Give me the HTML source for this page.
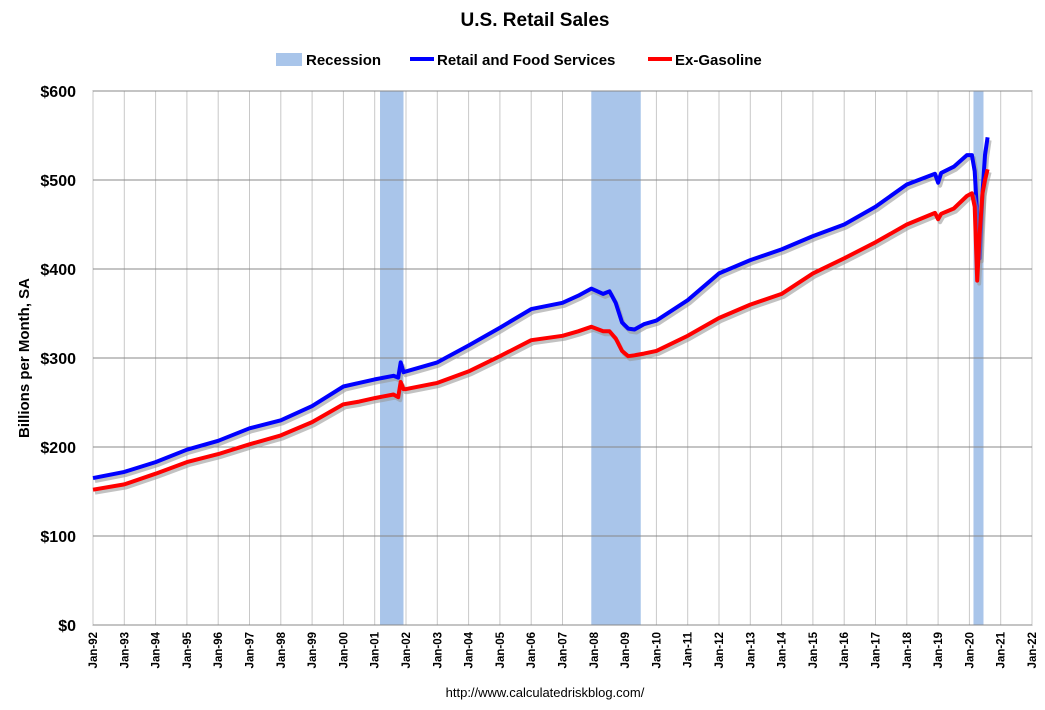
<!DOCTYPE html>
<html><head><meta charset="utf-8">
<style>
body{margin:0;background:#fff;}
svg text{font-family:"Liberation Sans",Arial,sans-serif;}
</style></head>
<body>
<svg id="chart" width="1045" height="705" xmlns="http://www.w3.org/2000/svg">
<rect width="1045" height="705" fill="#fff"/>
<text x="535" y="26" text-anchor="middle" font-size="19" font-weight="bold">U.S. Retail Sales</text>
<g>
<rect x="276" y="53" width="26" height="13" fill="#a9c5ea"/>
<text x="306" y="65" font-size="15" font-weight="bold">Recession</text>
<line x1="410" y1="59" x2="434" y2="59" stroke="#0000ff" stroke-width="4"/>
<text x="437" y="65" font-size="15" font-weight="bold">Retail and Food Services</text>
<line x1="648" y1="59" x2="672" y2="59" stroke="#ff0000" stroke-width="4"/>
<text x="675" y="65" font-size="15" font-weight="bold">Ex-Gasoline</text>
</g>
<text transform="translate(29,358) rotate(-90)" text-anchor="middle" font-size="15" font-weight="bold">Billions per Month, SA</text>
<text x="545" y="697" text-anchor="middle" font-size="13">http://www.calculatedriskblog.com/</text>
<g id="plot"></g>
</svg>
<script>
const recessions=[[2001.17,2001.92],[2007.92,2009.5],[2020.13,2020.45]];
const yTicks=[0,100,200,300,400,500,600];
const xYears=[1992,1993,1994,1995,1996,1997,1998,1999,2000,2001,2002,2003,2004,2005,2006,2007,2008,2009,2010,2011,2012,2013,2014,2015,2016,2017,2018,2019,2020,2021,2022];
const retailDates=[1992,1993,1994,1995,1996,1997,1998,1999,2000,2000.5,2001,2001.6,2001.75,2001.83,2001.92,2002,2003,2004,2005,2006,2007,2007.5,2007.92,2008.3,2008.5,2008.7,2008.9,2009.1,2009.3,2009.6,2010,2011,2012,2013,2014,2015,2016,2017,2018,2018.9,2019.0,2019.1,2019.5,2019.92,2020.08,2020.17,2020.25,2020.33,2020.42,2020.5,2020.58];
const retailValues=[165,172,183,197,207,221,230,246,268,272,276,280,278,295,284,285,295,314,334,355,362,370,378,372,375,362,340,333,332,338,342,365,395,410,422,437,450,470,495,507,497,508,515,528,528,510,460,412,486,528,548];
const exgasDates=[1992,1993,1994,1995,1996,1997,1998,1999,2000,2000.5,2001,2001.6,2001.75,2001.83,2001.92,2002,2003,2004,2005,2006,2007,2007.5,2007.92,2008.3,2008.5,2008.7,2008.9,2009.1,2009.3,2009.6,2010,2011,2012,2013,2014,2015,2016,2017,2018,2018.9,2019.0,2019.1,2019.5,2019.92,2020.08,2020.17,2020.25,2020.33,2020.42,2020.5,2020.58];
const exgasValues=[152,158,170,183,192,203,213,228,248,251,255,259,256,273,265,265,272,285,302,320,325,330,335,330,330,322,308,302,303,305,308,325,345,360,372,395,412,430,450,463,456,462,468,482,485,470,387,440,485,500,512];

const X0=93,X1=1032,Y0=625,Y1=91;
const xS=d=>X0+(d-1992)/30*(X1-X0);
const yS=v=>Y0-v/600*(Y0-Y1);
const NS="http://www.w3.org/2000/svg";
const g=document.getElementById('plot');
function mk(t,a){const e=document.createElementNS(NS,t);for(const k in a)e.setAttribute(k,a[k]);g.appendChild(e);return e;}
const bg=mk('rect',{x:X0,y:Y1,width:X1-X0,height:Y0-Y1,fill:'#fff',stroke:'#888','stroke-width':1});


xYears.forEach(yr=>{const l=mk('line',{x1:xS(yr),x2:xS(yr),y1:Y1,y2:Y0,stroke:'#c8c8c8','stroke-width':1});

});
recessions.forEach(r=>{const e=mk('rect',{x:xS(r[0]),y:Y1,width:xS(r[1])-xS(r[0]),height:Y0-Y1,fill:'#a9c5ea'});

});
yTicks.forEach(v=>{const l=mk('line',{x1:X0,x2:X1,y1:yS(v),y2:yS(v),stroke:'#888','stroke-width':1});


const t=mk('text',{x:76,y:yS(v)+6,'text-anchor':'end','font-size':16,'font-weight':'bold'});t.textContent='$'+v;

});
xYears.forEach(yr=>{const x=xS(yr);const t=mk('text',{transform:`translate(${x+4},632) rotate(-90)`,'text-anchor':'end','font-size':11.5,'font-weight':'bold'});
t.textContent='Jan-'+String(yr).slice(2);

});
function path(ds,vs,dx,dy){return ds.map((d,i)=>(i?'L':'M')+(xS(d)+dx).toFixed(1)+','+(yS(vs[i])+dy).toFixed(1)).join(' ');}
[[retailDates,retailValues,'#0000ff','retail-line'],[exgasDates,exgasValues,'#ff0000','exgas-line']].forEach(s=>{
const sh=mk('path',{d:path(s[0],s[1],2,3),fill:'none',stroke:'#999','stroke-width':4,'stroke-linejoin':'round',opacity:0.6});


const p=mk('path',{d:path(s[0],s[1],0,0),fill:'none',stroke:s[2],'stroke-width':4,'stroke-linejoin':'round'});

});
</script>
</body></html>
